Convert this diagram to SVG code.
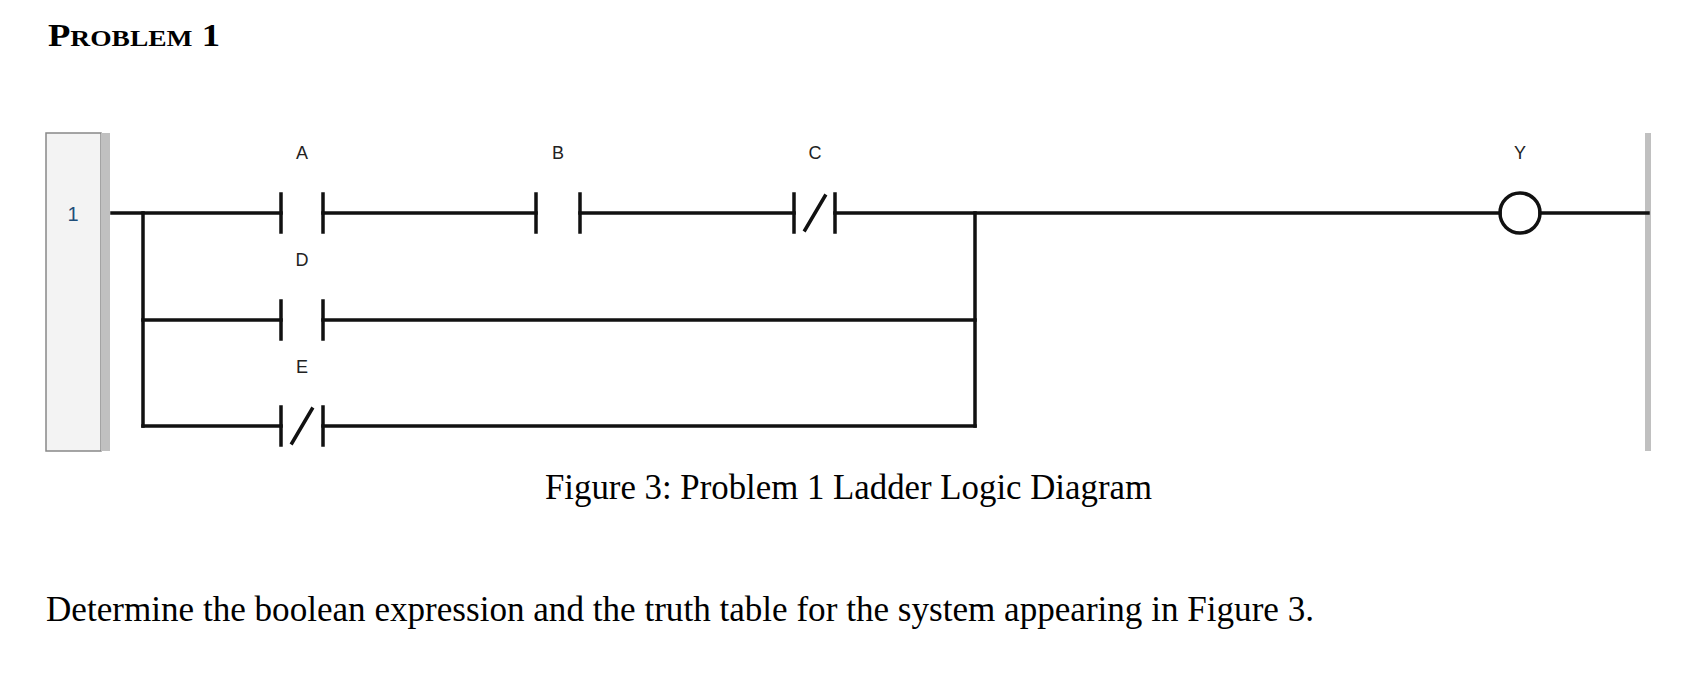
<svg xmlns="http://www.w3.org/2000/svg" width="1692" height="689" viewBox="0 0 1692 689">
<style>
.w{stroke:#111;stroke-width:3.5;fill:none;stroke-linecap:square}
.lbl{font-family:"Liberation Sans",Arial,sans-serif;font-size:18px;fill:#222;text-anchor:middle}
.serif{font-family:"Liberation Serif","Times New Roman",serif;fill:#000}
</style>
<rect width="1692" height="689" fill="#fff"/>
<text class="serif" x="48" y="46" font-size="32" font-weight="bold" textLength="172" lengthAdjust="spacingAndGlyphs">P<tspan font-size="24">ROBLEM</tspan> 1</text>
<g id="rail-left">
<rect x="46" y="133" width="55" height="318" fill="#f3f3f3" stroke="#888" stroke-width="1.5"/>
<rect x="101" y="133" width="9" height="318" fill="#c0c0c0"/>
<text x="73" y="221" font-family="Liberation Sans,Arial,sans-serif" font-size="20" fill="#1f4e79" text-anchor="middle">1</text>
</g>
<g id="rail-right"><rect x="1645" y="133" width="6" height="318" fill="#c0c0c0"/></g>
<g id="connectors" class="w">
<path d="M112 213H281M323 213H536M580 213H794M835 213H1500M1540 213H1648"/>
<path d="M143 213V426M975 213V426"/>
<path d="M143 320H281M323 320H975"/>
<path d="M143 426H281M323 426H975"/>
</g>
<g id="A"><text class="lbl" x="302" y="159">A</text><path class="w" d="M281 194V232M323 194V232"/></g>
<g id="B"><text class="lbl" x="558" y="159">B</text><path class="w" d="M536 194V232M580 194V232"/></g>
<g id="C"><text class="lbl" x="815" y="159">C</text><path class="w" d="M794 194V232M835 194V232M805 230L825 196"/></g>
<g id="D"><text class="lbl" x="302" y="266">D</text><path class="w" d="M281 301V339M323 301V339"/></g>
<g id="E"><text class="lbl" x="302" y="373">E</text><path class="w" d="M281 407V445M323 407V445M292 443L312 409"/></g>
<g id="Y"><text class="lbl" x="1520" y="159">Y</text><circle class="w" cx="1520" cy="213" r="20"/></g>
<text class="serif" x="545" y="499" font-size="35" textLength="607" lengthAdjust="spacingAndGlyphs">Figure 3: Problem 1 Ladder Logic Diagram</text>
<text class="serif" x="46" y="621" font-size="35" textLength="1268" lengthAdjust="spacingAndGlyphs">Determine the boolean expression and the truth table for the system appearing in Figure 3.</text>
</svg>
